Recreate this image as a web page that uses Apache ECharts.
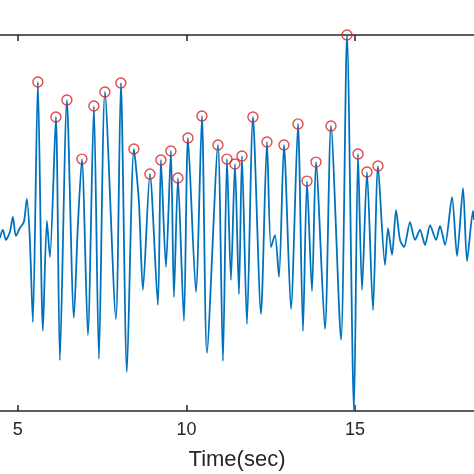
<!DOCTYPE html>
<html><head><meta charset="utf-8">
<script src="https://cdn.jsdelivr.net/npm/echarts@6/dist/echarts.min.js"></script>
<style>html,body{margin:0;padding:0;background:#fff}#c{width:474px;height:474px}</style>
</head><body><div id="c"></div>
<script>
const times = [4.466,4.555,4.644,4.763,4.852,4.941,5.059,5.178,5.267,5.356,5.445,5.593,5.742,5.861,5.950,6.128,6.246,6.454,6.662,6.780,6.899,7.077,7.255,7.404,7.582,7.908,8.056,8.234,8.442,8.591,8.709,8.917,9.154,9.243,9.392,9.540,9.629,9.748,9.926,10.045,10.282,10.460,10.608,10.935,11.083,11.202,11.320,11.439,11.558,11.647,11.795,11.973,12.211,12.389,12.507,12.626,12.745,12.893,13.101,13.309,13.457,13.576,13.724,13.843,14.110,14.288,14.585,14.763,14.970,15.089,15.208,15.356,15.534,15.682,15.890,15.979,16.098,16.217,16.335,16.454,16.632,16.780,16.929,17.077,17.226,17.404,17.522,17.671,17.878,18.027,18.205,18.323,18.501,18.531];
const signal = [-0.080,-0.037,-0.090,-0.048,0.032,-0.069,-0.027,0.005,0.128,-0.090,-0.527,0.750,-0.574,0.011,-0.181,0.564,-0.729,0.654,-0.505,-0.011,0.340,-0.596,0.622,-0.723,0.697,-0.511,0.745,-0.793,0.394,0.112,-0.356,0.261,-0.436,0.335,-0.234,0.383,-0.394,0.239,-0.521,0.452,-0.367,0.569,-0.691,0.415,-0.734,0.340,-0.303,0.314,-0.378,0.356,-0.537,0.564,-0.484,0.431,-0.128,-0.064,-0.287,0.415,-0.457,0.527,-0.574,0.223,-0.362,0.324,-0.564,0.516,-0.622,1.000,-1.000,0.367,-0.356,0.271,-0.463,0.303,-0.223,-0.027,-0.170,0.069,-0.090,-0.128,0.005,-0.090,-0.037,-0.117,-0.011,-0.090,-0.016,-0.117,0.138,-0.176,0.186,-0.202,0.064,0.016];
const peakTimes = [5.593,6.128,6.454,6.899,7.255,7.582,8.056,8.442,8.917,9.243,9.540,9.748,10.045,10.460,10.935,11.202,11.439,11.647,11.973,12.389,12.893,13.309,13.576,13.843,14.288,14.763,15.089,15.356,15.682];
const peakValues = [0.750,0.564,0.654,0.340,0.622,0.697,0.745,0.394,0.261,0.335,0.383,0.239,0.452,0.569,0.415,0.340,0.314,0.356,0.564,0.431,0.415,0.527,0.223,0.324,0.516,1.000,0.367,0.271,0.303];
const xTicks = [5,10,15];

const font = '"Liberation Sans", Arial, sans-serif';
const chart = echarts.init(document.getElementById('c'), null, {renderer:'canvas'});
const axisCommon = {type:'value', min:4.47, max:18.53,
  axisLine:{onZero:false, lineStyle:{color:'#262626', width:1.5}},
  axisTick:{inside:true, length:6, customValues:xTicks, lineStyle:{color:'#262626', width:1.5}},
  splitLine:{show:false}};
chart.setOption({
  animation:false,
  grid:{left:0, right:0, top:35, bottom:63, outerBoundsMode:'none', containLabel:false},
  xAxis:[
    Object.assign({}, axisCommon, {position:'bottom', name:'Time(sec)', nameLocation:'middle', nameGap:38,
      nameTextStyle:{fontFamily:font, fontSize:22, color:'#262626'},
      axisLabel:{fontFamily:font, fontSize:18, color:'#262626', margin:10, customValues:xTicks}}),
    Object.assign({}, axisCommon, {position:'top', axisLabel:{show:false}})
  ],
  yAxis:{type:'value', min:-1, max:1, show:false},
  series:[
    {type:'line', data:times.map((t,i)=>[t,signal[i]]), smooth:0.25, showSymbol:false,
     lineStyle:{color:'#0072BD', width:1.8}, z:2},
    {type:'scatter', data:peakTimes.map((t,i)=>[t,peakValues[i]]), symbol:'circle', symbolSize:10,
     itemStyle:{color:'rgba(0,0,0,0)', borderColor:'#D81E1E', borderWidth:1.4}, z:3}
  ]
});
</script></body></html>
